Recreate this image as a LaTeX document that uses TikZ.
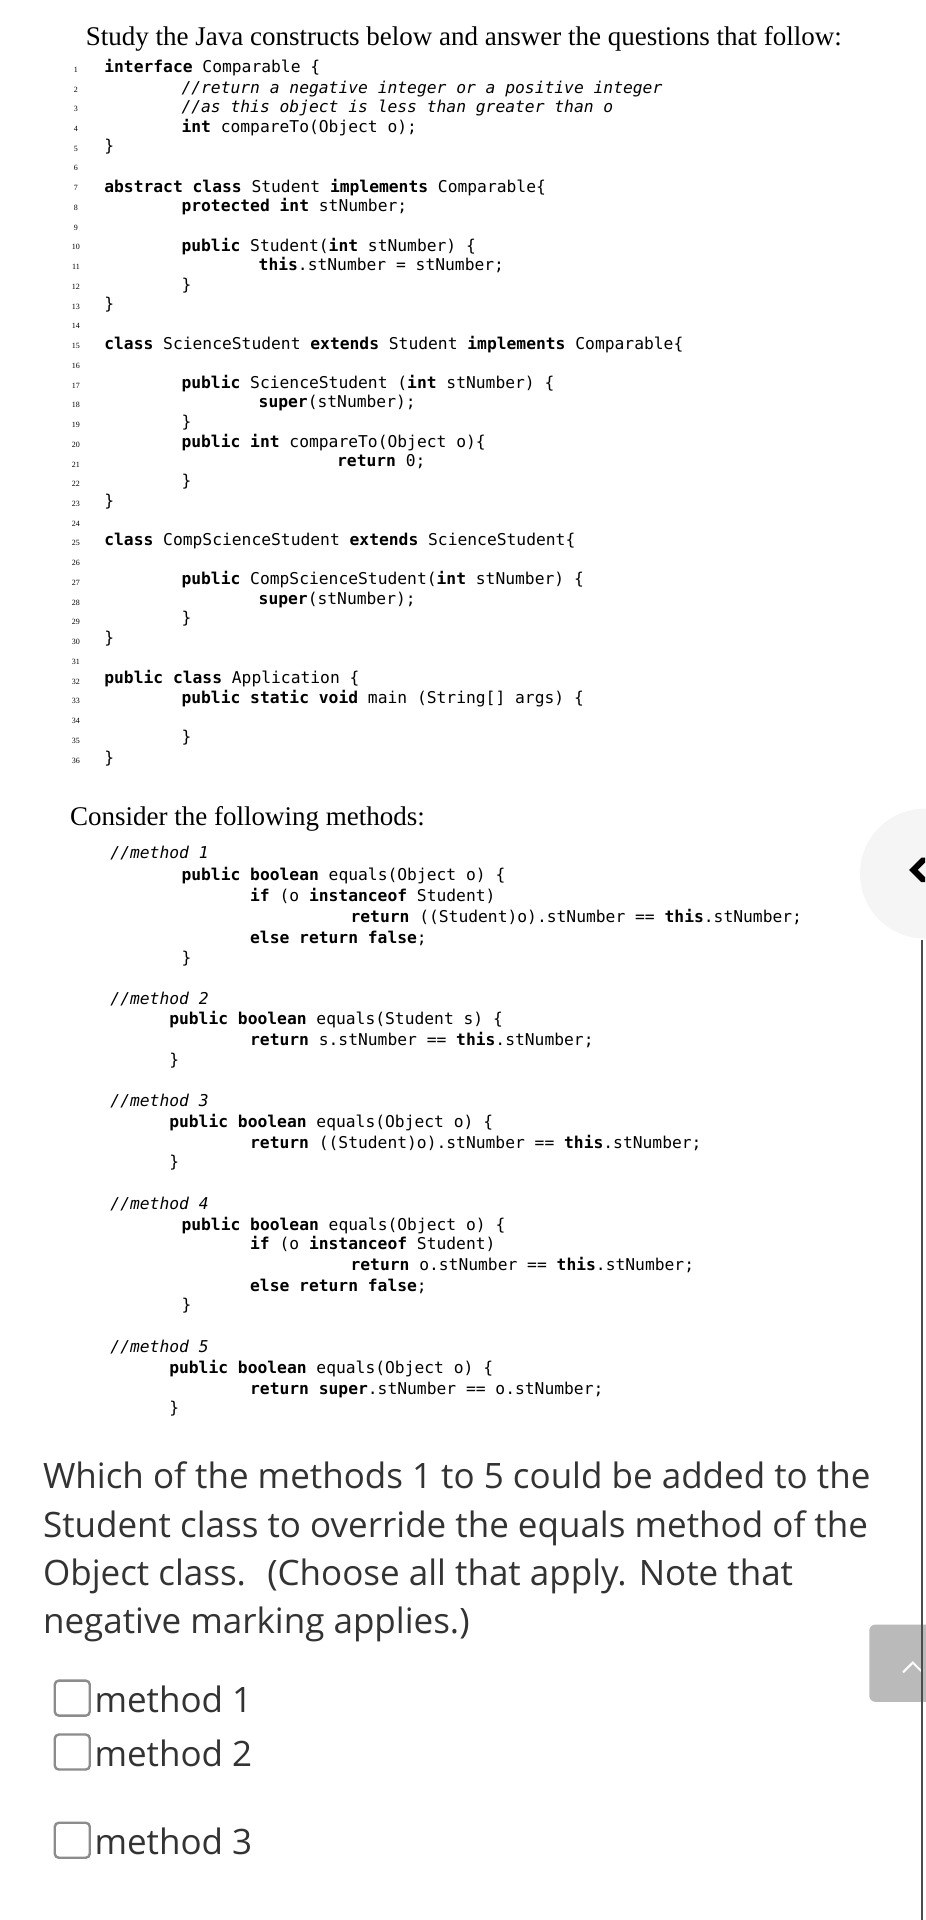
\documentclass[tikz,border=0pt]{standalone}
\usepackage{fontspec}
\setmainfont{Liberation Serif}
\setmonofont{DejaVu Sans Mono}
\newfontfamily\qfont{Open Sans}
\definecolor{qtext}{HTML}{333333}
\newcommand{\kw}[1]{\textbf{#1}}
\newcommand{\cm}[1]{\textit{#1}}
\begin{document}
\begin{tikzpicture}[x=1.2252pt,y=-1.2252pt,
  code/.style={anchor=base west,inner sep=0pt,font=\fontsize{16.3pt}{18pt}\ttfamily},
  lnum/.style={anchor=base,inner sep=0pt,font=\fontsize{8pt}{9pt}\selectfont},
  head/.style={anchor=base west,inner sep=0pt,font=\fontsize{27pt}{31pt}\selectfont},
  ques/.style={anchor=base west,inner sep=0pt,text=qtext,font=\fontsize{35pt}{40pt}\qfont},
  cbox/.style={draw=black!45,line width=2.4pt,rounded corners=4pt,minimum width=35pt,minimum height=35pt,inner sep=0pt}]
\useasboundingbox (0,0) rectangle (755,1567.1);
\fill[white] (0,0) rectangle (755,1567.1);
\node[head] (title) at (70,37) {Study the Java constructs below and answer the questions that follow:};
% line numbers
\foreach \i in {1,...,36} {
  \node[lnum] (ln\i) at (62,{55+(\i-1)*16.11+4}) {\i};
}
\node[code] (c1) at (85,59) {\kw{interface} Comparable \{};
\node[code] (c2) at (148,76) {\cm{//return a negative integer or a positive integer}};
\node[code] (c3) at (148,92) {\cm{//as this object is less than greater than o}};
\node[code] (c4) at (148,108) {\kw{int} compareTo(Object o);};
\node[code] (c5) at (85,124) {\}};
\node[code] (c7) at (85,157) {\kw{abstract class} Student \kw{implements} Comparable\{};
\node[code] (c8) at (148,173) {\kw{protected int} stNumber;};
\node[code] (c10) at (148,205) {\kw{public} Student(\kw{int} stNumber) \{};
\node[code] (c11) at (211,221) {\kw{this}.stNumber = stNumber;};
\node[code] (c12) at (148,237) {\}};
\node[code] (c13) at (85,253) {\}};
\node[code] (c15) at (85,285) {\kw{class} ScienceStudent \kw{extends} Student \kw{implements} Comparable\{};
\node[code] (c17) at (148,317) {\kw{public} ScienceStudent (\kw{int} stNumber) \{};
\node[code] (c18) at (211,333) {\kw{super}(stNumber);};
\node[code] (c19) at (148,349) {\}};
\node[code] (c20) at (148,365) {\kw{public int} compareTo(Object o)\{};
\node[code] (c21) at (275,381) {\kw{return} 0;};
\node[code] (c22) at (148,397) {\}};
\node[code] (c23) at (85,413) {\}};
\node[code] (c25) at (85,445) {\kw{class} CompScienceStudent \kw{extends} ScienceStudent\{};
\node[code] (c27) at (148,477) {\kw{public} CompScienceStudent(\kw{int} stNumber) \{};
\node[code] (c28) at (211,493) {\kw{super}(stNumber);};
\node[code] (c29) at (148,509) {\}};
\node[code] (c30) at (85,525) {\}};
\node[code] (c32) at (85,558) {\kw{public class} Application \{};
\node[code] (c33) at (148,574) {\kw{public static void} main (String[] args) \{};
\node[code] (c35) at (148,606) {\}};
\node[code] (c36) at (85,623) {\}};
\node[head] (consider) at (57,674) {Consider the following methods:};
% method 1
\node[code] (m1a) at (90,701) {\cm{//method 1}};
\node[code] (m1b) at (148,719) {\kw{public boolean} equals(Object o) \{};
\node[code] (m1c) at (204,736) {\kw{if} (o \kw{instanceof} Student)};
\node[code] (m1d) at (286,753) {\kw{return} ((Student)o).stNumber == \kw{this}.stNumber;};
\node[code] (m1e) at (204,770) {\kw{else return false};};
\node[code] (m1f) at (148,786) {\}};
% method 2
\node[code] (m2a) at (90,820) {\cm{//method 2}};
\node[code] (m2b) at (138,836) {\kw{public boolean} equals(Student s) \{};
\node[code] (m2c) at (204,853) {\kw{return} s.stNumber == \kw{this}.stNumber;};
\node[code] (m2d) at (138,870) {\}};
% method 3
\node[code] (m3a) at (90,903) {\cm{//method 3}};
\node[code] (m3b) at (138,920) {\kw{public boolean} equals(Object o) \{};
\node[code] (m3c) at (204,937) {\kw{return} ((Student)o).stNumber == \kw{this}.stNumber;};
\node[code] (m3d) at (138,953) {\}};
% method 4
\node[code] (m4a) at (90,987) {\cm{//method 4}};
\node[code] (m4b) at (148,1004) {\kw{public boolean} equals(Object o) \{};
\node[code] (m4c) at (204,1020) {\kw{if} (o \kw{instanceof} Student)};
\node[code] (m4d) at (286,1037) {\kw{return} o.stNumber == \kw{this}.stNumber;};
\node[code] (m4e) at (204,1054) {\kw{else return false};};
\node[code] (m4f) at (148,1070) {\}};
% method 5
\node[code] (m5a) at (90,1104) {\cm{//method 5}};
\node[code] (m5b) at (138,1121) {\kw{public boolean} equals(Object o) \{};
\node[code] (m5c) at (204,1138) {\kw{return super}.stNumber == o.stNumber;};
\node[code] (m5d) at (138,1154) {\}};
% question
\node[ques] (q1) at (35,1215) {Which of the methods 1 to 5 could be added to the};
\node[ques] (q2) at (35,1255) {Student class to override the equals method of the};
\node[ques] (q3) at (35,1294) {Object class. \ (Choose all that apply. Note that};
\node[ques] (q4) at (35,1333) {negative marking applies.)};
\node[cbox] (b1) at (59,1386) {};
\node[ques] (o1) at (77,1398) {method 1};
\node[cbox] (b2) at (59,1430) {};
\node[ques] (o2) at (77,1442) {method 2};
\node[cbox] (b3) at (59,1502) {};
\node[ques] (o3) at (77,1514) {method 3};
% right side UI
\fill[black!4] (755,713) circle (53);
\fill[black] (742,710) -- (752,700) -- (755,700) -- (755,704) -- (749,710) -- (755,716) -- (755,720) -- (752,720) -- cycle;
\fill[black!27,rounded corners=6pt] (709.5,1326) rectangle (770,1389);
\draw[white,line width=2pt] (737,1365) -- (745,1357) -- (753,1365);
\draw[black!70,line width=1.2pt] (752.5,767) -- (752.5,1567.1);
\end{tikzpicture}
\end{document}
